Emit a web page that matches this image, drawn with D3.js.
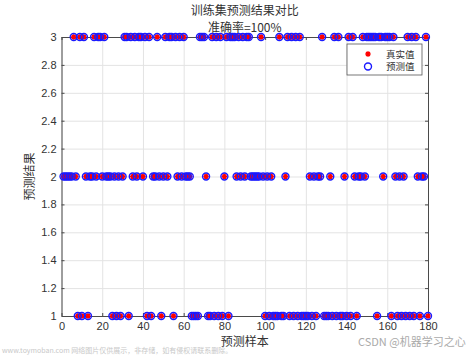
<!DOCTYPE html>
<html>
<head>
<meta charset="utf-8">
<script src="https://cdn.jsdelivr.net/npm/d3@7"></script>
<style>
  body { margin: 0; background: #fff; }
  text { font-family: "Liberation Sans", Arial, sans-serif; }
  .cjk { font-family: "Noto Sans CJK SC", sans-serif; }
</style>
</head>
<body>
<svg id="chart"></svg>
<script>
// class of each training sample (1..180)
var trueLabels = [
  2,2,2,2,2,3,2,1,3,1, 3,2,1,2,2,3,2,3,3,2,
  3,2,2,2,1,2,1,2,1,2, 3,3,1,3,2,3,2,3,3,2,
  3,1,3,1,2,2,3,2,1,2, 3,2,3,3,1,3,2,3,2,3,
  2,2,2,1,1,1,1,3,3,3, 2,1,1,3,1,3,1,3,1,2,
  3,1,3,3,3,2,3,2,3,2, 3,3,2,2,2,2,2,3,2,1,
  2,1,2,1,1,1,3,1,1,2, 3,1,3,1,3,1,3,1,1,1,
  1,2,1,2,1,2,2,3,1,1, 1,2,1,3,1,3,1,1,2,1,
  3,1,3,2,1,2,2,3,2,3, 3,3,3,3,1,3,3,2,3,3,
  3,1,3,2,1,2,1,2,1,3, 1,3,1,3,2,1,2,2,3,1
];
// accuracy is 100%, predicted equals true
var predLabels = trueLabels.slice();

var xTicks = [0, 20, 40, 60, 80, 100, 120, 140, 160, 180];
var yTicks = [1, 1.2, 1.4, 1.6, 1.8, 2, 2.2, 2.4, 2.6, 2.8, 3];
var legendNames = ["真实值", "预测值"];

var W = 474, H = 355;
var margin = {top: 37, right: 46, bottom: 39, left: 61.5};
var width = W - margin.left - margin.right,
    height = H - margin.top - margin.bottom;

var svg = d3.select("#chart").attr("width", W).attr("height", H);
var g = svg.append("g")
    .attr("transform", "translate(" + margin.left + "," + margin.top + ")");

var x = d3.scaleLinear().domain([0, 180]).range([0, width]);
var y = d3.scaleLinear().domain([1, 3]).range([height, 0]);

// grid
g.append("g")
    .attr("transform", "translate(0," + height + ")")
    .call(d3.axisBottom(x).tickValues(xTicks).tickSize(-height).tickFormat(""))
    .call(function(s) { s.select(".domain").remove(); })
    .selectAll("line").attr("stroke", "#e3e3e3");
g.append("g")
    .call(d3.axisLeft(y).tickValues(yTicks).tickSize(-width).tickFormat(""))
    .call(function(s) { s.select(".domain").remove(); })
    .selectAll("line").attr("stroke", "#e3e3e3");

// axes (box with inward ticks)
var axisColor = "#4a4a4a";
function styleAxis(s) {
  s.select(".domain").attr("stroke", axisColor);
  s.selectAll(".tick line").attr("stroke", axisColor);
  s.selectAll("text").attr("fill", "#333").style("font-size", "11px");
}
g.append("g")
    .attr("transform", "translate(0," + height + ")")
    .call(d3.axisBottom(x).tickValues(xTicks).tickSizeInner(-3).tickSizeOuter(0).tickPadding(6))
    .call(styleAxis);
g.append("g")
    .call(d3.axisTop(x).tickValues(xTicks).tickSizeInner(-3).tickSizeOuter(0).tickFormat(""))
    .call(styleAxis);
g.append("g")
    .call(d3.axisLeft(y).tickValues(yTicks).tickSizeInner(-3).tickSizeOuter(0).tickPadding(5)
      .tickFormat(function(d) { return d3.format("~g")(d); }))
    .call(styleAxis);
g.append("g")
    .attr("transform", "translate(" + width + ",0)")
    .call(d3.axisRight(y).tickValues(yTicks).tickSizeInner(-3).tickSizeOuter(0).tickFormat(""))
    .call(styleAxis);

// asterisk marker path (8 spokes)
function asterisk(r) {
  var d = r * 0.7071;
  return "M0," + (-r) + "V" + r + "M" + (-r) + ",0H" + r +
         "M" + (-d) + "," + (-d) + "L" + d + "," + d +
         "M" + (-d) + "," + d + "L" + d + "," + (-d);
}

g.append("g").selectAll("path")
    .data(trueLabels)
    .enter().append("path")
    .attr("transform", function(d, i) { return "translate(" + x(i + 1) + "," + y(d) + ")"; })
    .attr("d", asterisk(2.7))
    .attr("stroke", "#ff0000")
    .attr("stroke-width", 1.5)
    .attr("fill", "none");

g.append("g").selectAll("circle")
    .data(predLabels)
    .enter().append("circle")
    .attr("cx", function(d, i) { return x(i + 1); })
    .attr("cy", function(d) { return y(d); })
    .attr("r", 3.5)
    .attr("fill", "none")
    .attr("stroke", "#1a1aff")
    .attr("stroke-width", 1.4);

// titles and labels
var cx = width / 2;
svg.append("text").attr("class", "cjk")
    .attr("x", margin.left + cx).attr("y", 15)
    .attr("text-anchor", "middle").attr("fill", "#333").style("font-size", "12px")
    .text("训练集预测结果对比");
svg.append("text").attr("class", "cjk")
    .attr("x", margin.left + cx).attr("y", 31.5)
    .attr("text-anchor", "middle").attr("fill", "#333").style("font-size", "12px")
    .text("准确率=100%");
svg.append("text").attr("class", "cjk")
    .attr("x", margin.left + cx).attr("y", 345.5)
    .attr("text-anchor", "middle").attr("fill", "#333").style("font-size", "12px")
    .text("预测样本");
svg.append("text").attr("class", "cjk")
    .attr("transform", "translate(34," + (margin.top + height / 2) + ") rotate(-90)")
    .attr("text-anchor", "middle").attr("fill", "#333").style("font-size", "12px")
    .text("预测结果");

// legend
var lg = svg.append("g").attr("transform", "translate(347,44)");
lg.append("rect").attr("width", 75).attr("height", 31)
    .attr("fill", "#fff").attr("stroke", "#555").attr("stroke-width", 0.8);
lg.append("path").attr("transform", "translate(21,10)").attr("d", asterisk(2.7))
    .attr("stroke", "#ff0000").attr("stroke-width", 1.5);
lg.append("circle").attr("cx", 21).attr("cy", 22.5).attr("r", 3.5)
    .attr("fill", "none").attr("stroke", "#1a1aff").attr("stroke-width", 1.4);
lg.selectAll("text.lab").data(legendNames).enter().append("text")
    .attr("class", "cjk")
    .attr("x", 39).attr("y", function(d, i) { return 13.5 + i * 12.5; })
    .attr("fill", "#333").style("font-size", "9.5px")
    .text(function(d) { return d; });

// watermarks
svg.append("text").attr("class", "cjk")
    .attr("x", 2).attr("y", 353.3).attr("fill", "#c8c8c8").style("font-size", "7px")
    .text("www.toymoban.com 网络图片仅供展示，非存储，如有侵权请联系删除。");
svg.append("text").attr("class", "cjk")
    .attr("x", 358).attr("y", 346).attr("fill", "#aaa").style("font-size", "11px")
    .text("CSDN @机器学习之心");
</script>
</body>
</html>
